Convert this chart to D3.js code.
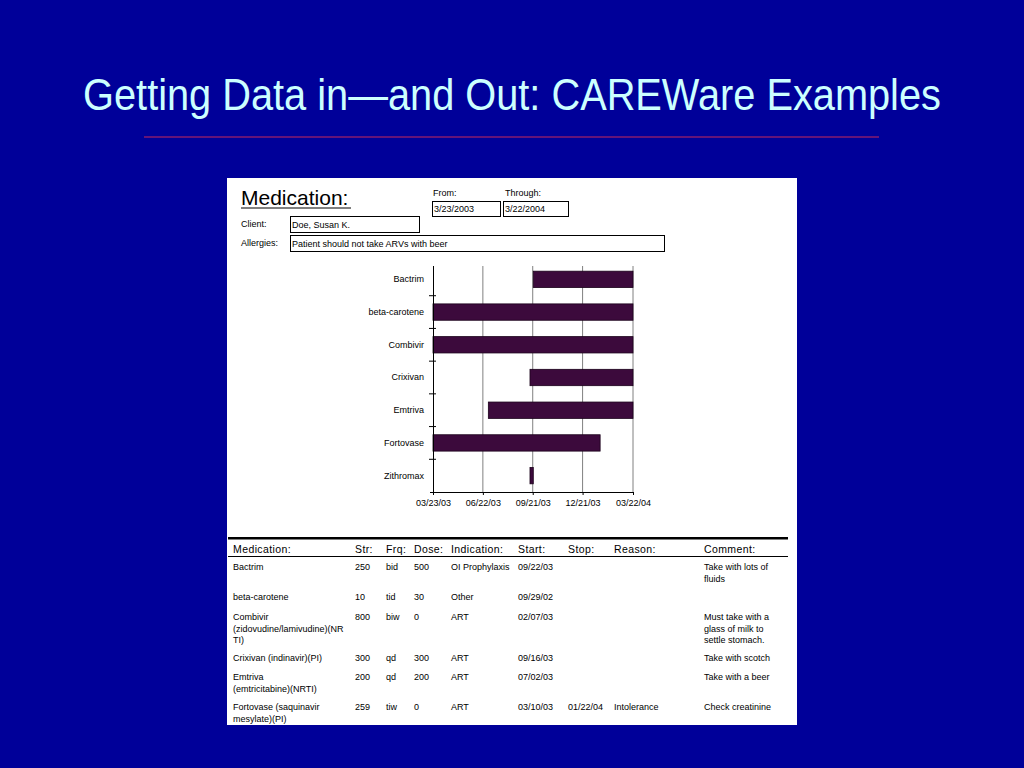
<!DOCTYPE html>
<html><head><meta charset="utf-8">
<script src="https://cdn.jsdelivr.net/npm/d3@7"></script>
<style>
body{margin:0;background:#000099;}
svg{display:block;}
text{font-family:"Liberation Sans",Arial,sans-serif;}
</style></head>
<body>
<script>
// ---- data ----
const title = "Getting Data in\u2014and Out: CAREWare Examples";
const fromDate = "3/23/2003";
const throughDate = "3/22/2004";
const clientName = "Doe, Susan K.";
const allergies = "Patient should not take ARVs with beer";

const categories = ["Bactrim","beta-carotene","Combivir","Crixivan","Emtriva","Fortovase","Zithromax"];
const startDates = ["2003-09-22","2002-09-29","2003-02-07","2003-09-16","2003-07-02","2003-03-10","2003-09-16"];
const endDates   = ["2004-03-22","2004-03-22","2004-03-22","2004-03-22","2004-03-22","2004-01-22","2003-09-22"];
const tickDates  = ["2003-03-23","2003-06-22","2003-09-21","2003-12-21","2004-03-22"];
const tickLabels = ["03/23/03","06/22/03","09/21/03","12/21/03","03/22/04"];

const tableHeaders = ["Medication:","Str:","Frq:","Dose:","Indication:","Start:","Stop:","Reason:","Comment:"];
const colMedication = [["Bactrim"],["beta-carotene"],["Combivir","(zidovudine/lamivudine)(NR","TI)"],["Crixivan (indinavir)(PI)"],["Emtriva","(emtricitabine)(NRTI)"],["Fortovase (saquinavir","mesylate)(PI)"]];
const colStr = ["250","10","800","300","200","259"];
const colFrq = ["bid","tid","biw","qd","qd","tiw"];
const colDose = ["500","30","0","300","200","0"];
const colIndication = ["OI Prophylaxis","Other","ART","ART","ART","ART"];
const colStart = ["09/22/03","09/29/02","02/07/03","09/16/03","07/02/03","03/10/03"];
const colStop = ["","","","","","01/22/04"];
const colReason = ["","","","","","Intolerance"];
const colComment = [["Take with lots of","fluids"],[""],["Must take with a","glass of milk to","settle stomach."],["Take with scotch"],["Take with a beer"],["Check creatinine"]];

// ---- drawing ----
const parse = d3.timeParse("%Y-%m-%d");
const svg = d3.select("body").append("svg").attr("width",1024).attr("height",768);
svg.append("rect").attr("width",1024).attr("height",768).attr("fill","#000099");

const tg = svg.append("g").attr("transform","translate(512,110)");
const tt = tg.append("text").attr("x",0).attr("y",0).attr("text-anchor","middle")
  .attr("font-size",44).attr("fill","#ccffff").text(title);
const tw = tt.node().getComputedTextLength();
if (tw > 0) tg.attr("transform",`translate(512,110) scale(${858/tw},1)`);
svg.append("line").attr("x1",144).attr("x2",879).attr("y1",137).attr("y2",137)
  .attr("stroke","#c8285a").attr("stroke-width",1.2);

// panel
svg.append("rect").attr("x",227).attr("y",178).attr("width",570).attr("height",547).attr("fill","#ffffff");

// header
const hdr = svg.append("g");
hdr.append("text").attr("x",241).attr("y",205).attr("font-size",21).attr("fill","#000").text("Medication:");
hdr.append("line").attr("x1",241).attr("x2",351).attr("y1",208).attr("y2",208).attr("stroke","#000").attr("stroke-width",1.2);
hdr.append("text").attr("x",433).attr("y",196).attr("font-size",9).attr("fill","#000").text("From:");
hdr.append("text").attr("x",505).attr("y",196).attr("font-size",9).attr("fill","#000").text("Through:");
function box(x,y,w,h,t){
  hdr.append("rect").attr("x",x+0.5).attr("y",y+0.5).attr("width",w).attr("height",h).attr("fill","none").attr("stroke","#000").attr("stroke-width",1);
  hdr.append("text").attr("x",x+2).attr("y",y+h-4).attr("font-size",9).attr("fill","#000").text(t);
}
box(432,201,68,15,fromDate);
box(503,201,65,15,throughDate);
hdr.append("text").attr("x",241).attr("y",227).attr("font-size",9).attr("fill","#000").text("Client:");
box(290,216,129,16,clientName);
hdr.append("text").attr("x",241).attr("y",246).attr("font-size",9).attr("fill","#000").text("Allergies:");
box(290,235,374,16,allergies);

// chart
const x0 = parse(tickDates[0]), x1 = parse(tickDates[tickDates.length-1]);
const x = d3.scaleTime().domain([x0,x1]).range([433,633]).clamp(true);
const y = d3.scaleBand().domain(categories).range([263,492]).paddingInner(0.5).paddingOuter(0.25);
const chart = svg.append("g");

// gridlines
chart.selectAll("line.grid").data(tickDates.slice(1)).join("line")
  .attr("x1",d=>x(parse(d))).attr("x2",d=>x(parse(d))).attr("y1",266).attr("y2",492)
  .attr("stroke","#808080").attr("stroke-width",1);

// bars
const bars = categories.map((c,i)=>({c, s:parse(startDates[i]), e:parse(endDates[i])}));
chart.selectAll("rect.bar").data(bars).join("rect")
  .attr("x",d=>x(d.s)).attr("width",d=>Math.max(1,x(d.e)-x(d.s)))
  .attr("y",d=>y(d.c)).attr("height",y.bandwidth())
  .attr("fill","#3c0a3c").attr("stroke","#1a001a").attr("stroke-width",0.8);

// y axis
const yAxis = d3.axisLeft(y).tickSize(0).tickPadding(9);
const ya = chart.append("g").attr("transform","translate(433,0)").call(yAxis);
ya.select(".domain").attr("stroke","#000").attr("d","M0.5,266V492");
ya.selectAll("text").attr("font-size",9).attr("fill","#000").attr("font-family","Liberation Sans, Arial, sans-serif");
const step = y.step();
chart.selectAll("line.ytick").data(d3.range(1,categories.length)).join("line")
  .attr("x1",429).attr("x2",436).attr("y1",d=>263+d*step).attr("y2",d=>263+d*step)
  .attr("stroke","#000").attr("stroke-width",1);

// x axis
const xAxis = d3.axisBottom(x).tickValues(tickDates.map(parse)).tickFormat((d,i)=>tickLabels[i]).tickSize(3).tickPadding(5);
const xa = chart.append("g").attr("transform","translate(0,492)").call(xAxis);
xa.select(".domain").attr("stroke","#000").attr("d","M430,0.5H633");
xa.selectAll("line").attr("stroke","#000");
xa.selectAll("text").attr("font-size",9).attr("fill","#000").attr("font-family","Liberation Sans, Arial, sans-serif");

// table
const tbl = svg.append("g");
tbl.append("rect").attr("x",228).attr("y",537).attr("width",560).attr("height",2.5).attr("fill","#000");
const colX = [233,355,386,414,451,518,568,614,704];
tbl.selectAll("text.h").data(tableHeaders).join("text")
  .attr("x",(d,i)=>colX[i]).attr("y",553).attr("font-size",10.5).attr("letter-spacing",0.4).attr("fill","#000").text(d=>d);
tbl.append("line").attr("x1",228).attr("x2",788).attr("y1",556.5).attr("y2",556.5).attr("stroke","#000").attr("stroke-width",1);

const rowY = [570,600,620,661,680,710];
const lineH = 11.5;
const simpleCols = [colStr,colFrq,colDose,colIndication,colStart,colStop,colReason];
rowY.forEach((ry,r)=>{
  colMedication[r].forEach((t,k)=>tbl.append("text").attr("x",colX[0]).attr("y",ry+k*lineH).attr("font-size",9).attr("fill","#000").text(t));
  simpleCols.forEach((col,c)=>tbl.append("text").attr("x",colX[c+1]).attr("y",ry).attr("font-size",9).attr("fill","#000").text(col[r]));
  colComment[r].forEach((t,k)=>tbl.append("text").attr("x",colX[8]).attr("y",ry+k*lineH).attr("font-size",9).attr("fill","#000").text(t));
});
</script>
</body></html>
